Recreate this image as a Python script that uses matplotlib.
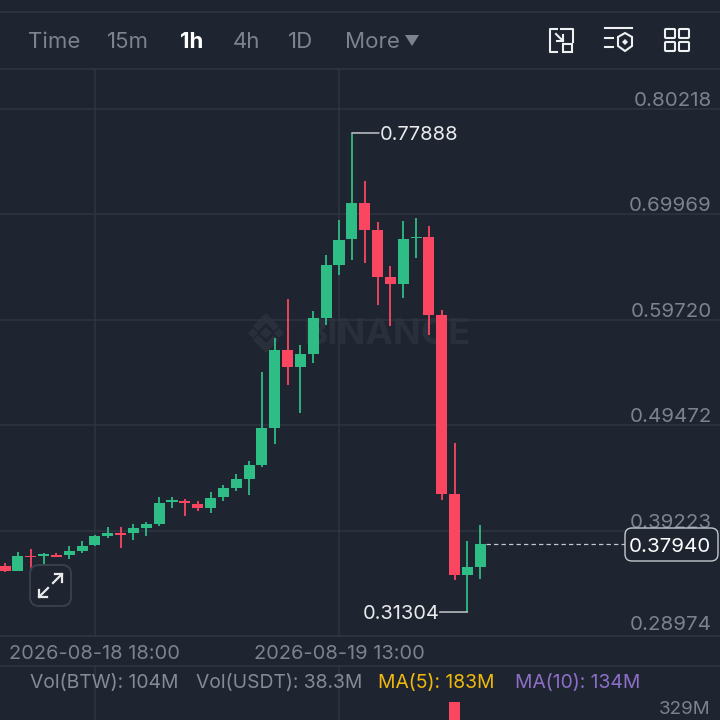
import matplotlib
matplotlib.use('Agg')
import matplotlib.pyplot as plt
from matplotlib.patches import FancyBboxPatch, Polygon, Rectangle

plt.rcParams['font.family'] = ['Inter', 'DejaVu Sans']

# hourly candles
opens = [.3578, .3532, .3675, .3675, .3685, .3688, .3724, .3779, .3867, .3899,
         .3896, .3945, .3989, .4203, .4210, .4184, .4145, .4249, .4334, .4427,
         .4563, .4920, .5681, .5513, .5642, .5992, .6502, .6755, .7108, .6842,
         .6385, .6323, .6765, .6774, .6022, .4275, .3491, .3571]
closes = [.3532, .3675, .3663, .3692, .3668, .3721, .3775, .3867, .3899, .3882,
          .3945, .3986, .4194, .4217, .4188, .4145, .4242, .4334, .4427, .4563,
          .4920, .5678, .5513, .5637, .5990, .6502, .6751, .7108, .6842, .6385,
          .6323, .6758, .6774, .6022, .4281, .3491, .3568, .3794]
highs = [.3604, .3717, .3743, .3702, .3704, .3773, .3824, .3877, .3960, .3957,
         .3986, .4003, .4246, .4246, .4230, .4207, .4298, .4369, .4473, .4599,
         .5467, .5798, .6171, .5727, .6055, .6599, .6942, .77888, .7325, .6920,
         .6495, .6936, .6965, .6884, .6064, .4771, .3818, .3980]
lows = [.3523, .3532, .3552, .3597, .3666, .3649, .3707, .3775, .3853, .3756,
        .3831, .3867, .3970, .4142, .4067, .4113, .4096, .4213, .4310, .4271,
        .4538, .4761, .5335, .5069, .5552, .5919, .6408, .6554, .6527, .6119,
        .5909, .6181, .6573, .5824, .4220, .3442, .31304, .3455]
candle_idx = list(range(len(opens)))

price_ticks = [0.80218, 0.69969, 0.59720, 0.49472, 0.39223, 0.28974]
time_idx = [7, 26]
time_labels = ['2026-08-18 18:00', '2026-08-19 13:00']
high_idx, high_val = 27, 0.77888
low_idx, low_val = 36, 0.31304
last_idx, last_price = 37, 0.37940

vol_idx = [35]
vol_values = [329]
vol_top_label = '329M'

tabs = ['Time', '15m', '1h', '4h', '1D', 'More']
tab_x = [28, 107, 180, 233, 288, 345]
legend_text = ['Vol(BTW): 104M', 'Vol(USDT): 38.3M', 'MA(5): 183M', 'MA(10): 134M']
legend_x = [30, 196, 378, 515]
legend_col = ['#848b97', '#848b97', '#f0b90b', '#8d6fc9']

BG = '#1f2530'
GRID = '#2e3440'
GREEN = '#2ebd85'
RED = '#fb4661'
GREY = '#7d838e'
WHITE = '#e8eaed'
LABEL = 14.8

# pixel <-> axis helpers
xpx0, dx = 5.0, 12.846
k = 0.10249 / 105.4
def px_price(y):
    return 0.90817 - y * k

fig = plt.figure(figsize=(7.2, 7.2), dpi=100, facecolor=BG)

ax = fig.add_axes([0, (720 - 636) / 720, 1, (636 - 69) / 720], facecolor=BG)
ax.set_xlim(-xpx0 / dx, (720 - xpx0) / dx)
ax.set_ylim(px_price(636), px_price(69))
ax.axis('off')

for t in price_ticks:
    ax.axhline(t, color=GRID, lw=1.1, zorder=1)
    up = 8.0 if t == price_ticks[-1] else 5.8
    ax.annotate('%.5f' % t, xy=(1, t), xycoords=('axes fraction', 'data'),
                xytext=(-5.8, up), textcoords='offset points', ha='right', va='center',
                color=GREY, fontsize=LABEL, clip_on=False, annotation_clip=False)
for i in time_idx:
    ax.axvline(i, color=GRID, lw=1.1, zorder=1)

colors = [GREEN if c >= o else RED for o, c in zip(opens, closes)]
ax.vlines(candle_idx, lows, highs, colors=colors, lw=1.3, zorder=3)
bottoms = [min(o, c) for o, c in zip(opens, closes)]
heights = [max(abs(c - o), 0.0012) for o, c in zip(opens, closes)]
ax.bar(candle_idx, heights, bottom=bottoms, width=0.86, color=colors, linewidth=0, zorder=4)

# high / low markers
ax.annotate('', xy=(high_idx, high_val), xytext=(19.5, 0), textcoords='offset points', zorder=6,
            arrowprops=dict(arrowstyle='-', color='#c4c7cc', lw=1.1, shrinkA=0, shrinkB=0))
ax.annotate('%.5f' % high_val, xy=(high_idx, high_val), xytext=(20, -1.5), textcoords='offset points',
            va='center', ha='left', color=WHITE, fontsize=14.4, zorder=6)
ax.annotate('', xy=(low_idx, low_val), xytext=(-20, 0), textcoords='offset points', zorder=6,
            arrowprops=dict(arrowstyle='-', color='#c4c7cc', lw=1.1, shrinkA=0, shrinkB=0))
ax.annotate('%.5f' % low_val, xy=(low_idx, low_val), xytext=(-20, -1.5), textcoords='offset points',
            va='center', ha='right', color=WHITE, fontsize=14.4, zorder=6)

# last price line
ax.plot([last_idx + 0.45, (625 - xpx0) / dx], [last_price, last_price], color='#c4c7cc',
        lw=0.9, ls=(0, (3.5, 2.5)), zorder=2)

# volume strip
ax_v = fig.add_axes([0, 0, 1, 54 / 720], facecolor=BG)
ax_v.set_xlim(ax.get_xlim())
ax_v.set_ylim(268.6, 449.9)
ax_v.axis('off')
for i in time_idx:
    ax_v.axvline(i, color=GRID, lw=1.1, zorder=1)
ax_v.bar(vol_idx, vol_values, width=0.86, color=RED, linewidth=0, zorder=3)

# everything else in screen pixels
ov = fig.add_axes([0, 0, 1, 1], facecolor='none')
ov.set_xlim(0, 720)
ov.set_ylim(720, 0)
ov.axis('off')

for y in [12, 69, 636, 666]:
    ov.plot([0, 720], [y, y], color=GRID, lw=1.2)

for name, x in zip(tabs, tab_x):
    active = name == '1h'
    ov.text(x, 42, name, ha='left', va='center', fontsize=16,
            color='#ffffff' if active else GREY, fontweight='bold' if active else 'normal')
ov.add_patch(Polygon([[405, 35], [419, 35], [412, 46]], closed=True, color=GREY, lw=0))

# toolbar icons
ic = '#eef0f2'
ov.plot([557, 550, 550, 557], [29, 29, 52, 52], color=ic, lw=1.5)
ov.plot([561, 573, 573], [29, 29, 42], color=ic, lw=1.5)
ov.add_patch(Rectangle((563, 44), 9, 8, fill=False, ec=ic, lw=1.5))
ov.plot([556, 563], [34, 41], color=ic, lw=1.5)
ov.plot([557, 563, 563], [41, 41, 35], color=ic, lw=1.5)
ov.plot([605, 632], [28, 28], color=ic, lw=1.5)
ov.plot([605, 613], [38, 38], color=ic, lw=1.5)
ov.plot([605, 613], [47, 47], color=ic, lw=1.5)
ov.add_patch(Polygon([[625, 33], [632, 37], [632, 46], [625, 51], [618, 46], [618, 37]],
                     closed=True, fill=False, ec=ic, lw=1.5))
ov.add_patch(Polygon([[625, 39], [628, 42], [625, 45], [622, 42]], closed=True, color=ic, lw=0))
for x0 in [665, 679]:
    for y0 in [29, 42]:
        ov.add_patch(FancyBboxPatch((x0, y0), 10, 9, boxstyle='round,pad=0,rounding_size=1',
                                    fill=False, ec=ic, lw=1.5))

# watermark, kept under the candles
wm = '#2a303b'
ov.set_zorder(2)
ax.set_zorder(3)
ax.patch.set_visible(False)
ax_wm = fig.add_axes([0, 0, 1, 1], facecolor='none', zorder=2.5)
ax_wm.set_xlim(0, 720)
ax_wm.set_ylim(720, 0)
ax_wm.axis('off')
ax_wm.text(387.5, 335, 'BINANCE', ha='center', va='center', color=wm, fontsize=26.5, fontweight='bold')
ax_wm.add_patch(Polygon([[266, 313], [279, 326], [274, 331], [266, 323], [258, 331], [253, 326]],
                        closed=True, color=wm, lw=0))
ax_wm.add_patch(Polygon([[266, 353], [279, 340], [274, 335], [266, 343], [258, 335], [253, 340]],
                        closed=True, color=wm, lw=0))
for cx, r in [(253, 5), (279, 5), (266, 6)]:
    ax_wm.add_patch(Polygon([[cx, 333 - r], [cx + r, 333], [cx, 333 + r], [cx - r, 333]],
                            closed=True, color=wm, lw=0))

# expand button and last price tag go over the chart
top = fig.add_axes([0, 0, 1, 1], facecolor='none', zorder=5)
top.set_xlim(0, 720)
top.set_ylim(720, 0)
top.axis('off')
top.add_patch(FancyBboxPatch((30, 565), 41, 41, boxstyle='round,pad=0,rounding_size=9',
                             fc=BG, ec='#3a404b', lw=1.4))
top.plot([39, 48], [597, 588], color=WHITE, lw=1.6)
top.plot([53, 62], [583, 574], color=WHITE, lw=1.6)
top.plot([39, 39, 47], [590, 597, 597], color=WHITE, lw=1.6)
top.plot([55, 62, 62], [574, 574, 582], color=WHITE, lw=1.6)

top.add_patch(FancyBboxPatch((625, 528), 93, 33, boxstyle='round,pad=0,rounding_size=7',
                             fc=BG, ec='#c4c7cc', lw=1.0))
top.text(711, 547, '%.5f' % last_price, ha='right', va='center', color='#ffffff', fontsize=LABEL)

for lab, i in zip(time_labels, time_idx):
    ov.text(xpx0 + i * dx, 654, lab, ha='center', va='center', color=GREY, fontsize=14.4)

for t, x, c in zip(legend_text, legend_x, legend_col):
    ov.text(x, 683, t, ha='left', va='center', color=c, fontsize=13.9)

ov.text(710, 710, vol_top_label, ha='right', va='center', color=GREY, fontsize=13.5)

fig.savefig('out.png', dpi=100, facecolor=BG)
